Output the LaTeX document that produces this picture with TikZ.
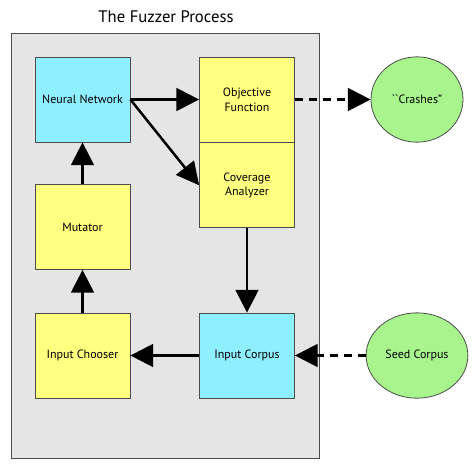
\documentclass[tikz,border=0pt]{standalone}
\usepackage{fontspec}
\setmainfont{PT Sans}
\usetikzlibrary{positioning,arrows.meta,shapes.geometric}
\definecolor{boxyellow}{RGB}{255,255,128}
\definecolor{boxcyan}{RGB}{143,239,255}
\definecolor{blobgreen}{RGB}{168,245,142}
\definecolor{panelgray}{RGB}{229,229,229}
\tikzset{
  stage box/.style={
    fill=#1,
    draw=black!70,
    line width=0.6pt,
    minimum width=71.25pt,
    minimum height=63.75pt,
    align=center,
    font=\fontsize{9}{11}\selectfont,
  },
  source blob/.style={
    ellipse,
    fill=blobgreen,
    draw=black!70,
    line width=0.6pt,
    minimum width=69pt,
    minimum height=64pt,
    font=\fontsize{9}{11}\selectfont,
  },
  flow/.style={
    line width=1.9pt,
    -{Triangle[length=17pt,width=17pt]},
  },
  feed/.style={
    flow,
    dash pattern=on 6pt off 4.5pt,
  }
}

\begin{document}
\begin{tikzpicture}[x=0.75pt,y=-0.75pt,node distance=0pt]
  \useasboundingbox (0,0) rectangle (474,468);
  \fill [panelgray, draw=black!70, line width=0.6pt] (11,33) rectangle (319,458);
  \node [font=\fontsize{12.5}{14}\selectfont] (title) at (166,17) {The Fuzzer Process};

  \node [stage box=boxcyan] (net) at (82.5,99.5) {Neural Network};
  \node [stage box=boxyellow] (obj) at (247,99.5) {Objective\\Function};
  \node [stage box=boxyellow, below=of obj] (cov) {Coverage\\Analyzer};
  \node [stage box=boxyellow] (mut) at (82.5,227) {Mutator};
  \node [stage box=boxyellow] (choose) at (82.5,355.5) {Input Chooser};
  \node [stage box=boxcyan] (corpus) at (247,355.5) {Input Corpus};

  \node [source blob] (crash) at (417,99.5) {\textasciigrave\textasciigrave Crashes''};
  \node [source blob] (seed) at (417,355.5) {Seed Corpus};

  \draw [flow] (net.east) -- (obj.west);
  \draw [flow] (net.east) -- (cov.west);
  \draw [feed] (obj.east) -- (crash.west);
  \draw [flow] (mut.north) -- (net.south);
  \draw [flow] (choose.north) -- (mut.south);
  \draw [flow] (cov.south) -- (corpus.north);
  \draw [flow] (corpus.west) -- (choose.east);
  \draw [feed] (seed.west) -- (corpus.east);
\end{tikzpicture}
\end{document}
